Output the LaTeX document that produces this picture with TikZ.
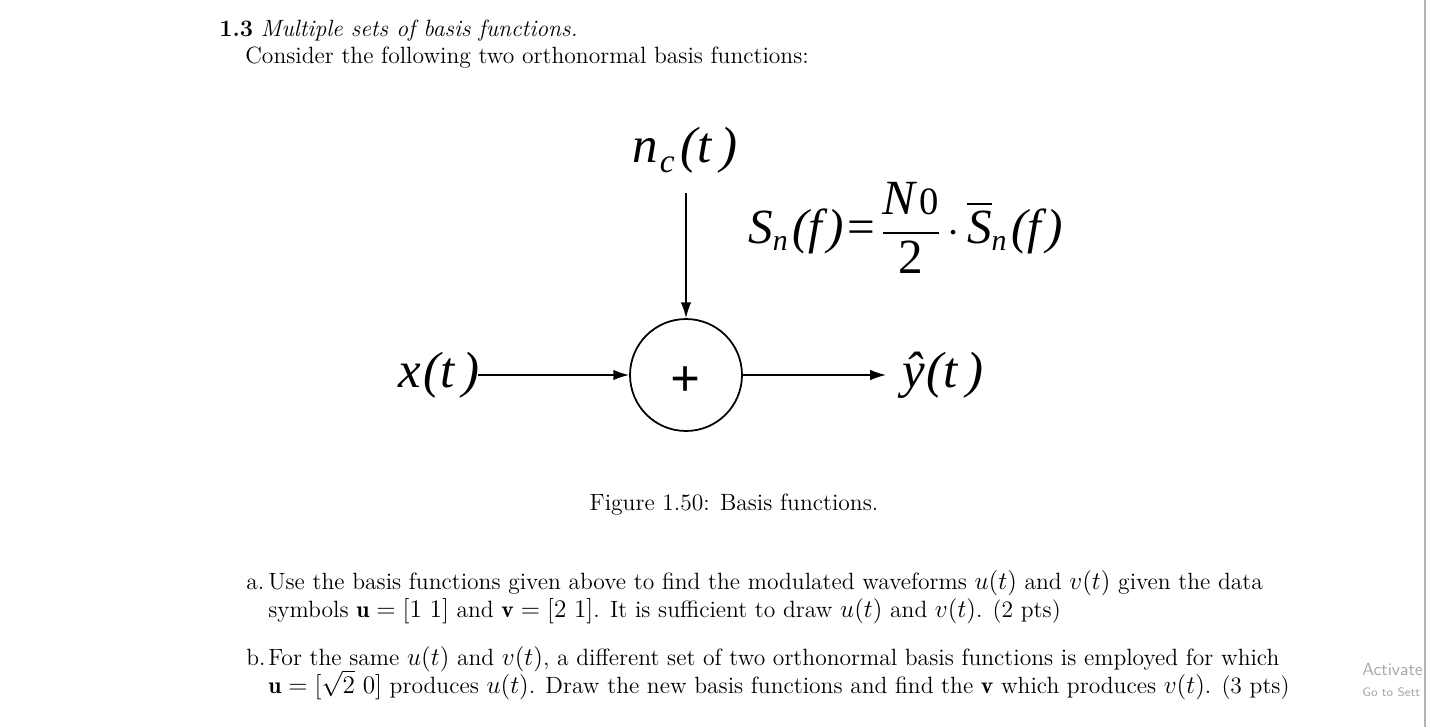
\documentclass[tikz,border=0pt]{standalone}
\usepackage{amsmath,amssymb}
\usepackage{fontspec}
\newfontfamily\tnr{Liberation Serif}
\usetikzlibrary{arrows.meta}
\begin{document}
\begin{tikzpicture}[x=0.02cm,y=-0.02cm,
  txt/.style={anchor=base west,inner sep=0pt,font=\fontsize{13.4}{16}\selectfont},
  big/.style={inner sep=0pt,font=\tnr\fontsize{29}{32}\selectfont},
  arr/.style={-{Latex[length=9pt,width=6pt]},line width=0.9pt}]
\useasboundingbox (0,0) rectangle (1430,727);
\fill[white] (0,0) rectangle (1430,727);
\draw[gray!60,line width=1pt] (1425,0) -- (1425,727);
\node[txt] (t1) at (219,36) {\textbf{1.3} \textit{Multiple sets of basis functions.}};
\node[txt] (t2) at (245,63) {Consider the following two orthonormal basis functions:};
% diagram
\node[circle,draw,line width=1pt,inner sep=0pt,minimum size=2.24cm] (sum) at (686,375) {};
\node[big,font=\tnr\fontsize{30}{32}\selectfont] (plus) at (686,382) {\textbf{+}};
\node[big] (nc) at (685,150) {\textit{n}\kern1pt$_{\raisebox{-2pt}{\tnr\itshape\fontsize{19}{19}\selectfont c}}$\kern3pt\textit{(t\,)}};
\node[big,anchor=east] (x) at (480,375) {\textit{x}\kern1pt\textit{(t\,)}};
\node[big,anchor=west] (y) at (902,375) {\textit{\^y}\kern1pt\textit{(t\,)}};
\coordinate (ntop) at (686,193);
\coordinate (xr) at (478,375);
\coordinate (yl) at (886,375);
\draw[arr] (ntop) -- (sum.north);
\draw[arr] (xr) -- (sum.west);
\draw[arr] (sum.east) -- (yl);
\node[big,anchor=west,font=\tnr\fontsize{28}{32}\selectfont] (S) at (748,228) {\textit{S}$_{\text{\tnr\itshape\fontsize{17}{17}\selectfont n}}$\kern2pt\textit{(f\kern3pt)}\kern2pt=\kern3pt$\dfrac{\text{\textit{N}\kern1pt\tnr\fontsize{22}{22}\selectfont 0}}{\text{2}}$\kern4pt$\cdot$\kern4pt$\overline{\text{\textit{S}}}_{\text{\tnr\itshape\fontsize{17}{17}\selectfont n}}$\kern2pt\textit{(f\kern3pt)}};
\node[txt,anchor=base] (cap) at (734,510) {Figure 1.50: Basis functions.};
\node[txt] (la) at (246,589) {a.};
\node[txt] (a1) at (268,589) {Use the basis functions given above to find the modulated waveforms $u(t)$ and $v(t)$ given the data};
\node[txt] (a2) at (268,617) {symbols $\mathbf{u}=[1\ 1]$ and $\mathbf{v}=[2\ 1]$. It is sufficient to draw $u(t)$ and $v(t)$. (2 pts)};
\node[txt] (lb) at (246,665) {b.};
\node[txt] (b1) at (268,665) {For the same $u(t)$ and $v(t)$, a different set of two orthonormal basis functions is employed for which};
\node[txt] (b2) at (268,693) {$\mathbf{u}=[\sqrt{2}\ 0]$ produces $u(t)$. Draw the new basis functions and find the $\mathbf{v}$ which produces $v(t)$. (3 pts)};
\begin{scope}
\clip (1340,650) rectangle (1430,710);
\node[anchor=base west,inner sep=0pt,text=gray!70,font=\sffamily\fontsize{10}{12}\selectfont] (w1) at (1362,675) {Activate};
\node[anchor=base west,inner sep=0pt,text=gray!70,font=\sffamily\fontsize{7}{9}\selectfont] (w2) at (1362,696) {Go to Sett};
\end{scope}
\end{tikzpicture}
\end{document}
